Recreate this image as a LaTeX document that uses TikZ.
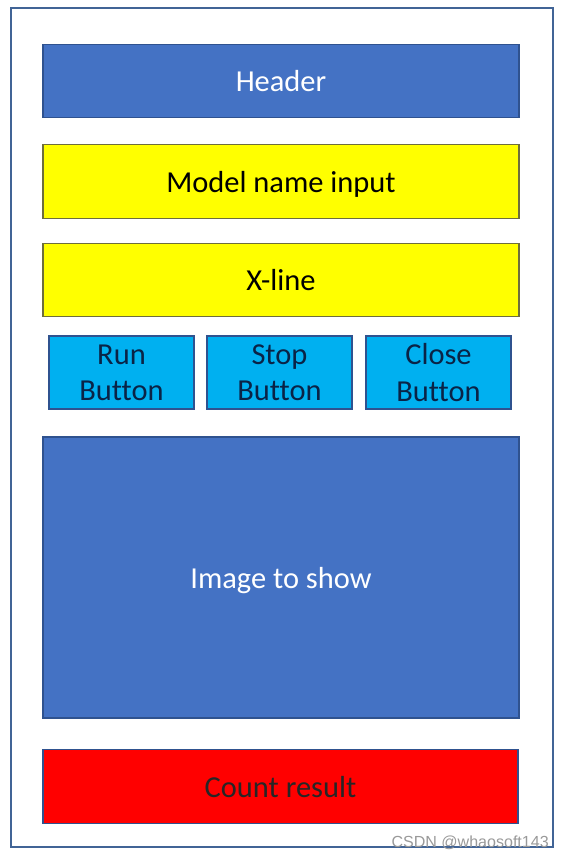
\documentclass[tikz,border=0pt]{standalone}
\usepackage{fontspec}
\setmainfont{Carlito}[Ligatures=NoCommon]
\newfontfamily\marksans{Liberation Sans}
\usepackage{xcolor}
\usepackage{tikz}
\definecolor{panelblue}{RGB}{68,114,196}
\definecolor{panelline}{RGB}{47,82,143}
\definecolor{btncyan}{RGB}{0,176,240}
\definecolor{btntext}{RGB}{10,35,70}
\definecolor{frameblue}{RGB}{65,100,150}
\definecolor{olive}{RGB}{110,110,60}
\definecolor{pureyellow}{RGB}{255,255,0}

\begin{document}
\begin{tikzpicture}[
  bar/.style={rectangle, line width=1pt, inner sep=0pt,
              minimum width=14.28cm, minimum height=2.2cm, text depth=0pt,
              text centered, font=\fontsize{26}{31}\selectfont},
  bluebar/.style={bar, draw=panelline, fill=panelblue, text=white},
  yellowbar/.style={bar, draw=olive, fill=pureyellow, text=black},
  button/.style={rectangle, line width=1pt, inner sep=0pt,
                 draw=panelline, fill=btncyan, text=btntext,
                 minimum width=4.35cm, minimum height=2.19cm,
                 align=center, font=\fontsize{26}{31}\selectfont}
]
  \useasboundingbox (0,0) rectangle (16.89,-25.74);
  \node[draw=frameblue, line width=1pt, inner sep=0pt,
        minimum width=16.26cm, minimum height=25.17cm] (frame) at (8.46,-12.825) {};
  \node[bluebar] (header) at (8.43,-2.43) {Header};
  \node[yellowbar] (model) at (8.43,-5.445) {Model name input};
  \node[yellowbar] (xline) at (8.43,-8.4) {X-line};
  \node[button] (run) at (3.645,-11.175) {Run\\Button};
  \node[button] (stop) at (8.385,-11.175) {Stop\\Button};
  \node[button] (close) at (13.155,-11.175) {Close\\Button};
  \node[bluebar, minimum height=8.43cm] (image) at (8.43,-17.325) {Image to show};
  \node[bar, draw=panelline, fill=red, text=black!85,
        minimum width=14.25cm] (count) at (8.415,-23.595) {Count result};
  \node[anchor=east, inner sep=0pt, text=gray!80, font=\marksans\fontsize{13.7}{16}\selectfont]
    (mark) at (16.47,-25.27) {CSDN @whaosoft143};
\end{tikzpicture}
\end{document}
